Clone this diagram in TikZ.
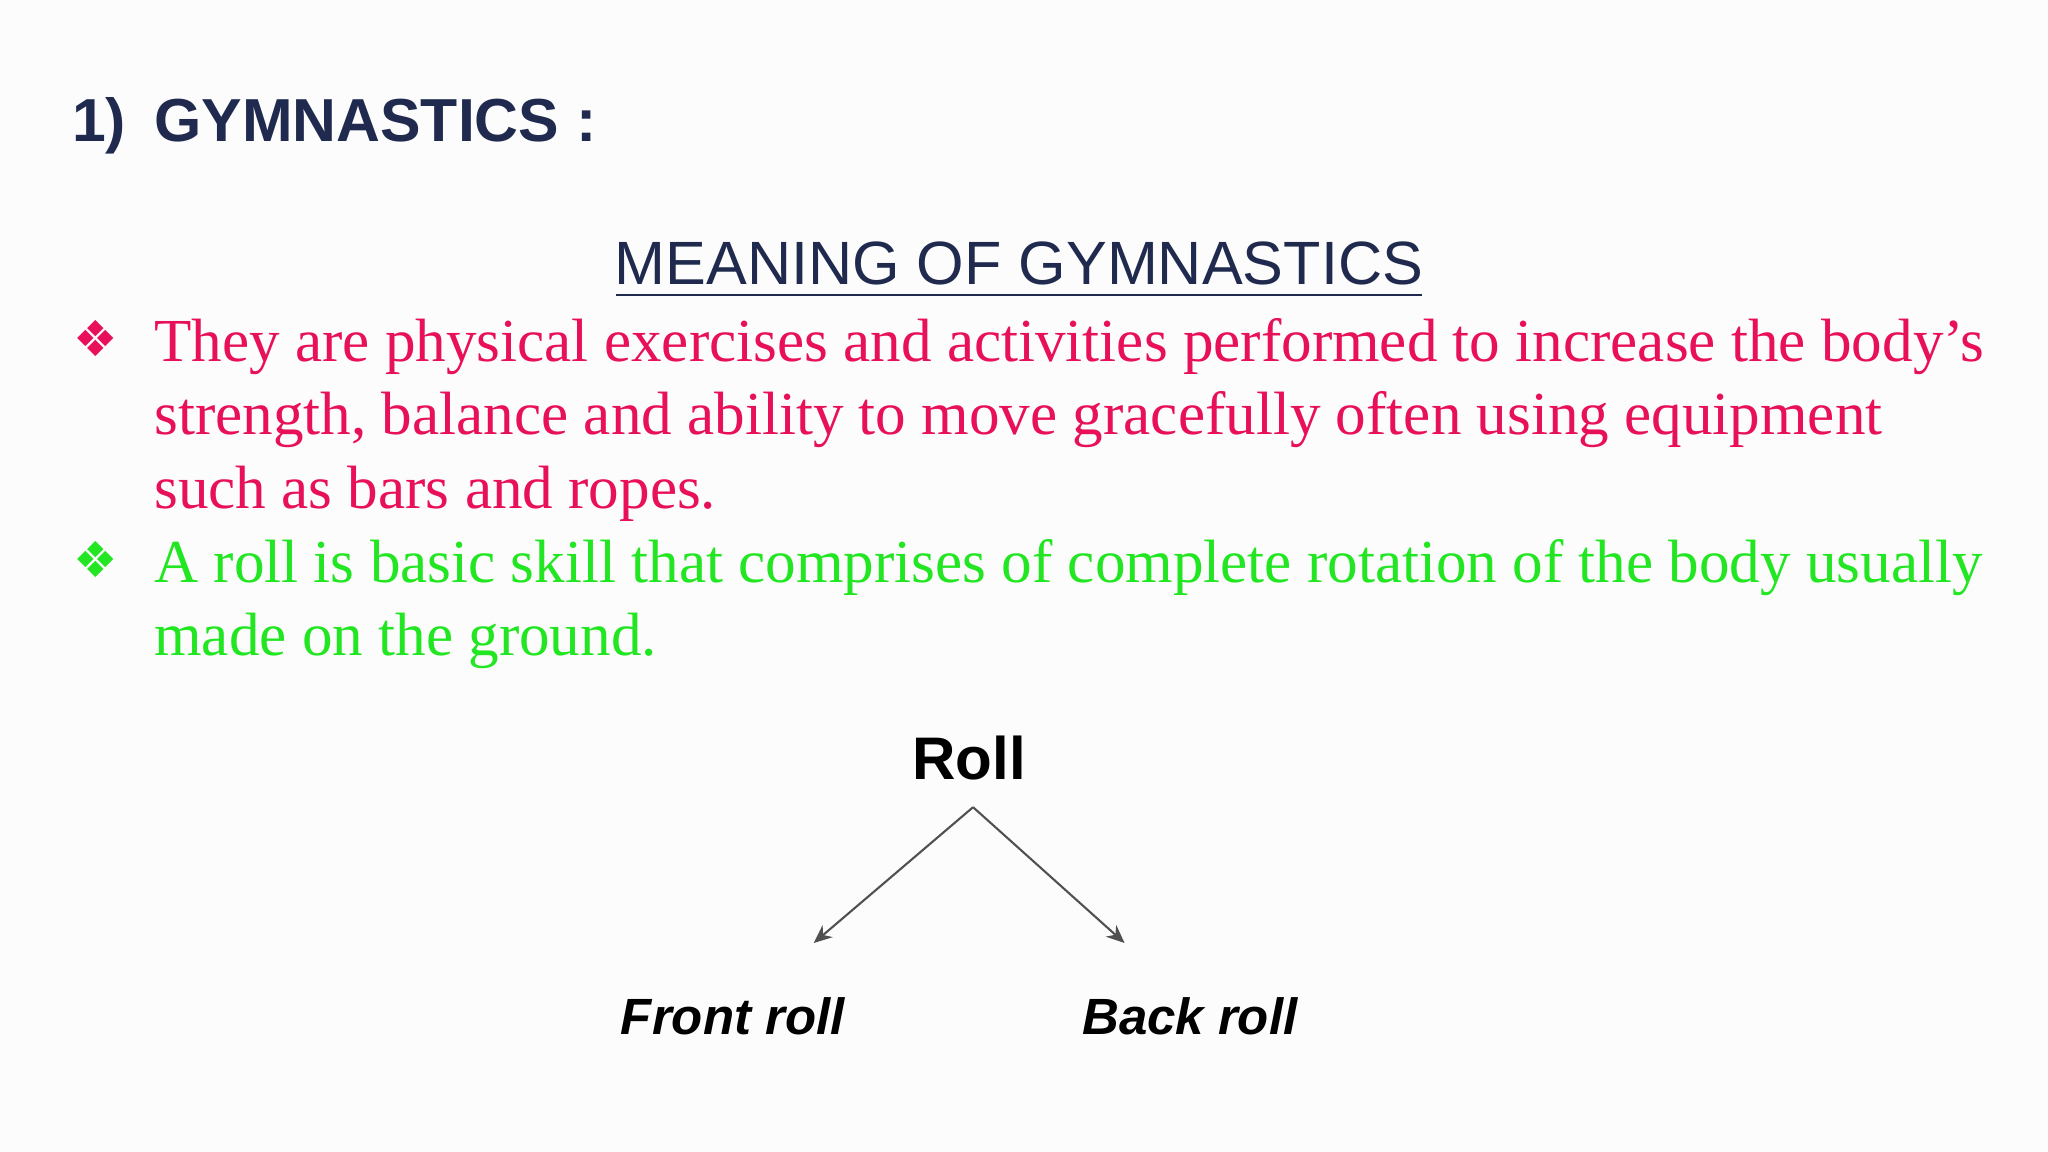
\documentclass[tikz,border=0pt]{standalone}
\usepackage{fontspec}
\setmainfont{Liberation Serif}
\newfontfamily\sansf{Liberation Sans}
\newfontfamily\dejav{DejaVu Sans}
\usetikzlibrary{arrows.meta}
\definecolor{navy}{HTML}{1F2A4E}
\definecolor{redt}{HTML}{E8105A}
\definecolor{greent}{HTML}{22E622}
\definecolor{arr}{HTML}{505050}
\begin{document}
\begin{tikzpicture}[x=1pt,y=-1pt,
  body/.style={anchor=base west,inner sep=0pt,font=\fontsize{46.8}{46.8}\selectfont},
  bul/.style={anchor=base west,inner sep=0pt,font=\dejav\fontsize{38}{38}\selectfont},
  lab/.style={anchor=base,inner sep=0pt,font=\sansf\bfseries\itshape\fontsize{39}{39}\selectfont},
  con/.style={arr,line width=1.6pt,-{Stealth[length=14pt,width=12pt]}}]
\fill[white!98!gray] (0,0) rectangle (1568,882);
\node[anchor=base west,inner sep=0pt,text=navy,font=\sansf\bfseries\fontsize{46.5}{46.5}\selectfont] (n1) at (55,108) {1)};
\node[anchor=base west,inner sep=0pt,text=navy,font=\sansf\bfseries\fontsize{46.5}{46.5}\selectfont] (t) at (118,108) {GYMNASTICS :};
\node[anchor=base,inner sep=0pt,text=navy,font=\sansf\fontsize{46.8}{46.8}\selectfont] (h) at (780,218) {MEANING OF GYMNASTICS};
\draw[navy,line width=2pt] (472,226) -- (1089,226);
\node[bul,text=redt] (b1) at (56,273) {❖};
\node[body,text=redt] (r1) at (118,277) {They are physical exercises and activities performed to increase the body’s};
\node[body,text=redt] (r2) at (118,333) {strength, balance and ability to move gracefully often using equipment};
\node[body,text=redt] (r3) at (118,389) {such as bars and ropes.};
\node[bul,text=greent] (b2) at (56,442) {❖};
\node[body,text=greent] (g1) at (118,446) {A roll is basic skill that comprises of complete rotation of the body usually};
\node[body,text=greent] (g2) at (118,502) {made on the ground.};
\node[anchor=base,inner sep=0pt,font=\sansf\bfseries\fontsize{46}{46}\selectfont] (roll) at (742,597) {Roll};
\node[lab] (fr) at (561,792) {Front roll};
\node[lab] (br) at (911,792) {Back roll};
\coordinate (top) at (745,618);
\coordinate (fe) at (623,722);
\coordinate (be) at (861,722);
\draw[con] (top) -- (fe);
\draw[con] (top) -- (be);
\end{tikzpicture}
\end{document}
